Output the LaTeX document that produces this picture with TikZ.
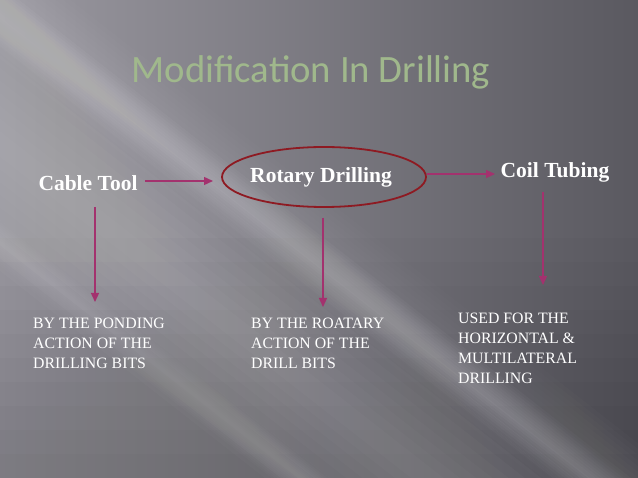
\documentclass[tikz,border=0pt]{standalone}
\usepackage{fontspec}
\setmainfont{Liberation Serif}
\newfontfamily\titlefont{Carlito}
\usetikzlibrary{arrows.meta,shapes.geometric}
\definecolor{arrowcol}{HTML}{A3326E}
\definecolor{ellcol}{HTML}{8E1A22}
\definecolor{titlecol}{HTML}{A0B88C}
\definecolor{bgleft}{HTML}{9A98A0}
\definecolor{bgright}{HTML}{5A5960}
\tikzset{
  flow/.style={-{Triangle[length=9pt,width=8pt]}, draw=arrowcol, line width=1.4pt},
  head/.style={text=white, font=\bfseries\fontsize{21.5}{24}\selectfont, inner sep=1pt},
  desc/.style={text=white, font=\fontsize{15.8}{20}\selectfont, align=left, anchor=north west, inner sep=0pt},
}
% soft band: #1 centre x, #2 centre y, #3 half width, #4 total opacity
\newcommand{\softband}[4]{%
  \begin{scope}[shift={(#1,#2)}, rotate=-38]
    \foreach \k in {1,...,10}{
      \fill[white, opacity=#4/10] (-1200,-#3*\k/10) rectangle (1200,#3*\k/10);
    }
  \end{scope}}
\begin{document}
\begin{tikzpicture}[x=1pt,y=-1pt]
\useasboundingbox (0,0) rectangle (638,478);
% background
\shade[left color=bgleft, right color=bgright] (0,0) rectangle (638,478);
\begin{scope}
\clip (0,0) rectangle (638,478);
\foreach \k in {1,...,10}{
  \fill[black, opacity=0.014] (0,478-24*\k) rectangle (638,478);
}
\softband{110}{230}{100}{0.20}
\softband{300}{250}{24}{0.22}
\softband{150}{360}{18}{0.14}
\softband{100}{80}{45}{0.10}
\end{scope}
% title
\node[text=titlecol, font=\titlefont\fontsize{38.7}{42}\selectfont] (title) at (311,72) {Modification In Drilling};
% main nodes
\node[head] (cable) at (88,183) {Cable Tool};
\node[head] (rotary) at (321,177) {Rotary Drilling};
\node[head] (coil) at (555,172) {Coil Tubing};
\node[draw=ellcol, line width=1.8pt, ellipse, minimum width=204pt, minimum height=60pt, inner sep=0pt] (ell) at (324,177) {};
% helper coordinates
\coordinate (c1) at (145,181);
\coordinate (c2) at (213,181);
\coordinate (r1) at (427,174);
\coordinate (r2) at (495,174);
\coordinate (d1a) at (95,207);
\coordinate (d1b) at (95,302);
\coordinate (d2a) at (323,218);
\coordinate (d2b) at (323,307);
\coordinate (d3a) at (543,192);
\coordinate (d3b) at (543,285);
\draw[flow] (c1) -- (c2);
\draw[flow] (r1) -- (r2);
\draw[flow] (d1a) -- (d1b);
\draw[flow] (d2a) -- (d2b);
\draw[flow] (d3a) -- (d3b);
% descriptions
\node[desc] (t1) at (33,318) {BY THE PONDING\\ACTION OF THE\\DRILLING BITS};
\node[desc] (t2) at (251,318) {BY THE ROATARY\\ACTION OF THE\\DRILL BITS};
\node[desc] (t3) at (458,313) {USED FOR THE\\HORIZONTAL \&\\MULTILATERAL\\DRILLING};
\end{tikzpicture}
\end{document}
